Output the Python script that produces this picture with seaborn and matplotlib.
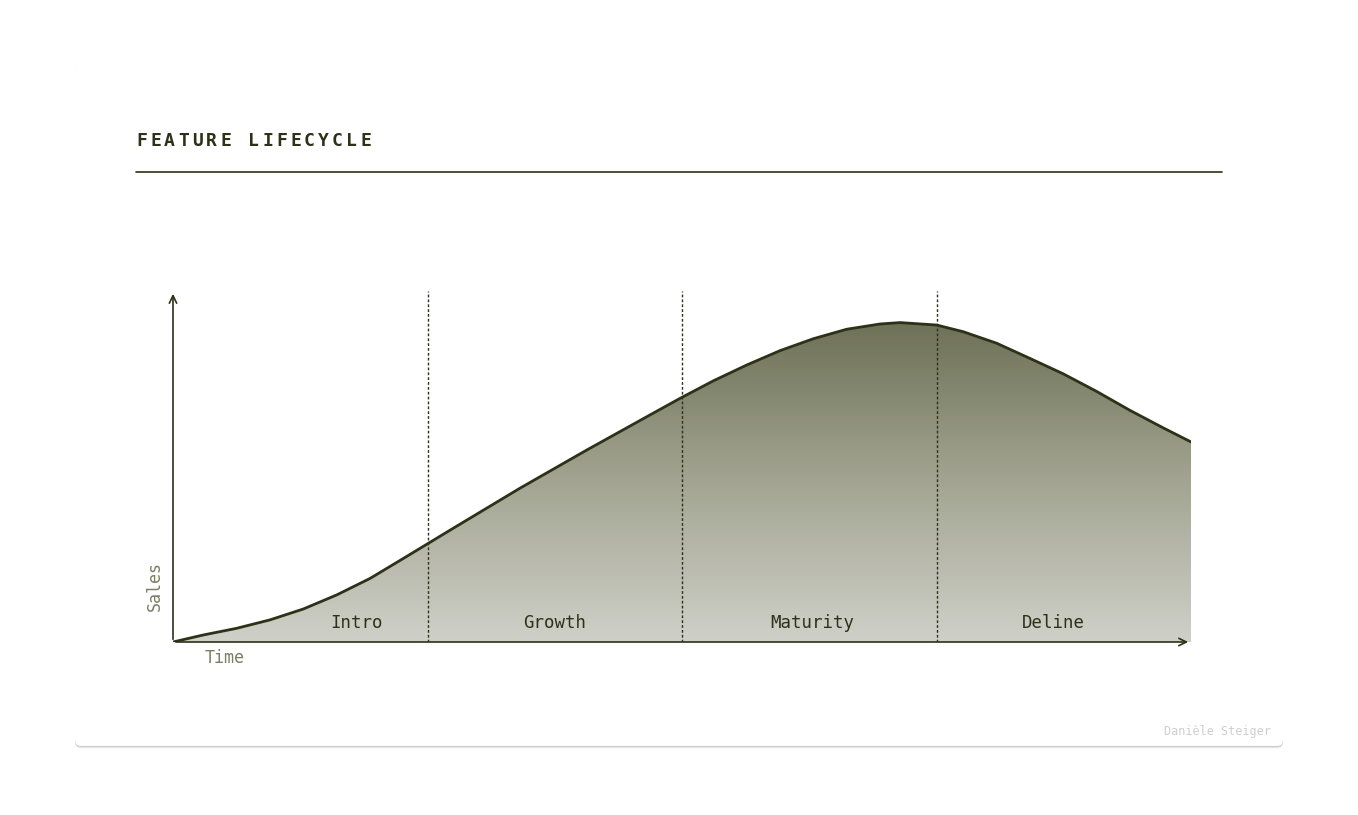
import numpy as np
import pandas as pd
import matplotlib
matplotlib.use("Agg")
import matplotlib.pyplot as plt
import seaborn as sns
from matplotlib.patches import FancyBboxPatch, Polygon
from matplotlib.colors import LinearSegmentedColormap

# ---- data ----
time = [0.0, 0.119, 0.250, 0.381, 0.512, 0.643, 0.774, 0.905, 1.003, 1.101,
        1.363, 1.626, 1.887, 1.992, 2.123, 2.254, 2.385, 2.516, 2.647, 2.778,
        2.857, 3.001, 3.105, 3.237, 3.367, 3.498, 3.629, 3.760, 3.891, 4.0]
sales = [0.0, 2.0, 3.9, 6.3, 9.4, 13.4, 18.1, 23.8, 28.1, 32.4,
         43.8, 54.7, 65.2, 69.4, 74.4, 78.9, 83.0, 86.4, 89.1, 90.6,
         91.0, 90.3, 88.4, 85.1, 80.8, 76.4, 71.4, 66.0, 61.0, 57.0]
phases = ["Intro", "Growth", "Maturity", "Deline"]
phase_label_x = [0.72, 1.5, 2.51, 3.46]
phase_bounds = [1, 2, 3]
title = "FEATURE LIFECYCLE"
credit = "Danièle Steiger"

DARK = "#2c3117"
MUTED = "#7b7e63"
MONO = ["DejaVu Sans Mono"]

sns.set_theme(style="white")
plt.rcParams["font.family"] = MONO

W, H = 1358, 815
fig = plt.figure(figsize=(W / 100, H / 100), dpi=100)
fig.patch.set_facecolor("white")

def fx(px):
    return px / W

def fy(py):
    return 1 - py / H

# card with soft bottom shadow
bg = fig.add_axes([0, 0, 1, 1])
bg.set_xlim(0, W)
bg.set_ylim(H, 0)
bg.axis("off")
for off, a in [(2.5, 0.04), (1.8, 0.07), (1.0, 0.10)]:
    bg.add_patch(FancyBboxPatch((75, 64 + off), 1208, 682,
                                boxstyle="round,pad=0,rounding_size=6",
                                fc=(0, 0, 0, a), ec="none"))
bg.add_patch(FancyBboxPatch((75, 64), 1208, 682,
                            boxstyle="round,pad=0,rounding_size=6",
                            fc="white", ec="none"))

# title with letter spacing
pitch = 14.0
for i, ch in enumerate(title):
    bg.text(136 + i * pitch, 141, ch, fontsize=13, fontweight="semibold",
            color=DARK, va="center", ha="left")
bg.plot([136, 1222], [172, 172], color=DARK, lw=1.2)
bg.text(1271, 731, credit, fontsize=8.5, color="#cfcfcf", ha="right", va="center")
bg.text(225, 658, "Time", fontsize=12, color=MUTED, ha="center", va="center")
bg.text(155, 586, "Sales", fontsize=12, color=MUTED, ha="center", va="center",
        rotation=90)

# main plot axes
ax = fig.add_axes([fx(173), fy(642), (1191 - 173) / W, (642 - 291) / H])
ax.set_xlim(0, 4)
ax.set_ylim(0, 100)
ax.patch.set_alpha(0)
ax.axis("off")

df = pd.DataFrame({"time": time, "sales": sales})

# gradient fill clipped to area under curve
peak = max(sales)
cmap = LinearSegmentedColormap.from_list("g", ["#cfd0c8", "#a3a592", "#6d7156"])
grad = np.linspace(0, 1, 256).reshape(-1, 1)
im = ax.imshow(grad, cmap=cmap, aspect="auto", origin="lower",
               extent=[0, 4, 0, peak], zorder=1)
poly = Polygon(list(zip(time, sales)) + [(4, 0), (0, 0)], closed=True,
               fc="none", ec="none", transform=ax.transData)
ax.add_patch(poly)
im.set_clip_path(poly)

sns.lineplot(data=df, x="time", y="sales", ax=ax, color=DARK, lw=2.0,
             zorder=4, sort=False)
ax.lines[-1].set_solid_joinstyle("round")

# phase dividers
for b in phase_bounds:
    ax.plot([b, b], [0, 100], color=DARK, lw=1.0, ls=(0, (2, 1.5)), zorder=3)

for lab, x in zip(phases, phase_label_x):
    ax.text(x, 5.3, lab, fontsize=12.5, color=DARK, ha="center", va="center", zorder=5)

# axes with arrows
ax.annotate("", xy=(4.0, 0), xytext=(0, 0),
            arrowprops=dict(arrowstyle="->,head_length=0.45,head_width=0.22",
                            color=DARK, lw=1.2), zorder=6)
ax.annotate("", xy=(0, 100), xytext=(0, 0),
            arrowprops=dict(arrowstyle="->,head_length=0.45,head_width=0.22",
                            color=DARK, lw=1.2), zorder=6)

fig.savefig("out.png", dpi=100, facecolor="white")
